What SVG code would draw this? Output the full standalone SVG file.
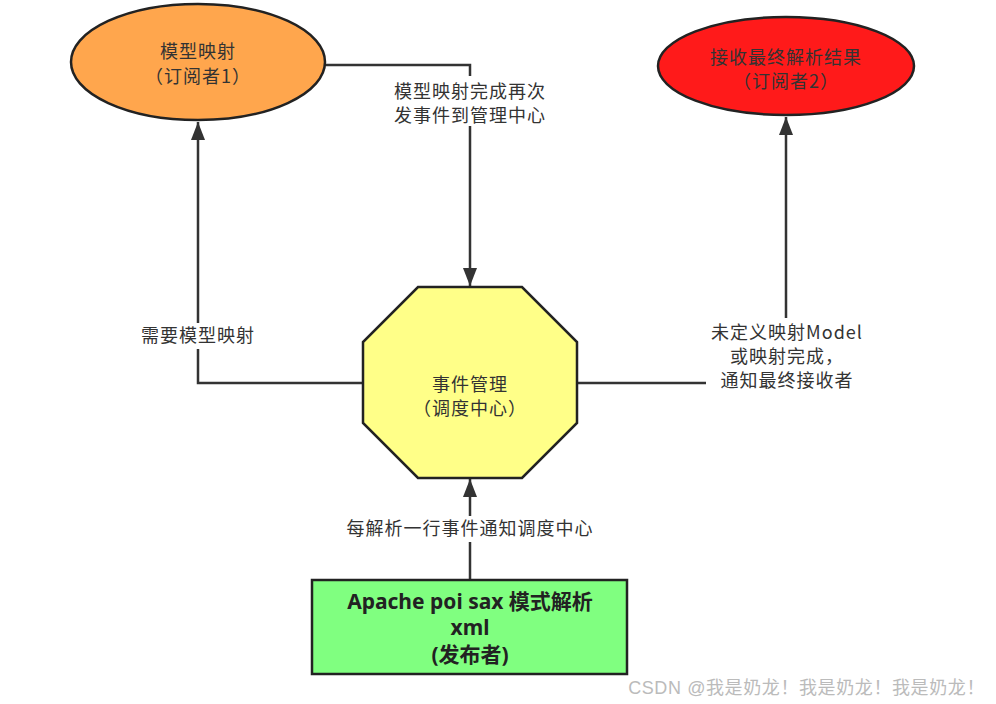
<svg xmlns="http://www.w3.org/2000/svg" width="996" height="704" viewBox="0 0 996 704">
<style>
.t{font-family:"Noto Sans CJK SC","Noto Sans",sans-serif;font-size:18px;fill:#333;text-anchor:middle;letter-spacing:1px}
.b{font-family:"Noto Sans","Noto Sans CJK SC",sans-serif;font-size:21px;font-weight:bold;fill:#222;text-anchor:middle}
.n{stroke:#222;stroke-width:2.5}
.c{fill:none;stroke:#333;stroke-width:2.5}
.bg{fill:#fff}
</style>
<defs>
<marker id="a" viewBox="0 0 18 14" refX="18" refY="7" markerWidth="18" markerHeight="14" markerUnits="userSpaceOnUse" orient="auto">
<path d="M0,0 L18,7 L0,14 Z" fill="#333"/>
</marker>
</defs>
<rect width="996" height="704" fill="#fff"/>
<g id="connectors">
<path class="c" d="M325,65 H470 V286" marker-end="url(#a)"/>
<path class="c" d="M363,383 H198 V122" marker-end="url(#a)"/>
<path class="c" d="M577,383 H786 V117" marker-end="url(#a)"/>
<path class="c" d="M470,580 V479" marker-end="url(#a)"/>
<rect class="bg" x="388" y="76" width="162" height="50"/>
<text class="t" x="470" y="98">模型映射完成再次</text>
<text class="t" x="470" y="122">发事件到管理中心</text>
<rect class="bg" x="136" y="323" width="124" height="26"/>
<text class="t" x="198" y="342">需要模型映射</text>
<rect class="bg" x="706" y="318" width="162" height="76"/>
<text class="t" x="787" y="339">未定义映射Model</text>
<text class="t" x="787" y="363">或映射完成，</text>
<text class="t" x="787" y="387">通知最终接收者</text>
<rect class="bg" x="340" y="516" width="260" height="26"/>
<text class="t" x="470" y="535">每解析一行事件通知调度中心</text>
</g>
<g id="subscriber1">
<ellipse class="n" cx="198" cy="62" rx="127" ry="58" fill="#FFA64D"/>
<text class="t" x="198" y="58">模型映射</text>
<text class="t" x="198" y="83">（订阅者1）</text>
</g>
<g id="subscriber2">
<ellipse class="n" cx="786" cy="66" rx="128" ry="49" fill="#FF1A1A"/>
<text class="t" x="786" y="64">接收最终解析结果</text>
<text class="t" x="786" y="88">（订阅者2）</text>
</g>
<g id="eventManager">
<polygon class="n" points="418,287 522,287 577,342 577,423 522,478 418,478 363,423 363,342" fill="#FFFF88"/>
<text class="t" x="470" y="391">事件管理</text>
<text class="t" x="470" y="415">（调度中心）</text>
</g>
<g id="publisher">
<rect class="n" x="312" y="580" width="315" height="94" fill="#80FF80"/>
<text class="b" x="470" y="609">Apache poi sax 模式解析</text>
<text class="b" x="470" y="635">xml</text>
<text class="b" x="470" y="662">(发布者)</text>
</g>
<text x="985" y="694" font-family="Liberation Sans,'Noto Sans CJK SC',sans-serif" font-size="18" letter-spacing="0.6" fill="#bbb" text-anchor="end">CSDN @我是奶龙！我是奶龙！我是奶龙！</text>
</svg>
